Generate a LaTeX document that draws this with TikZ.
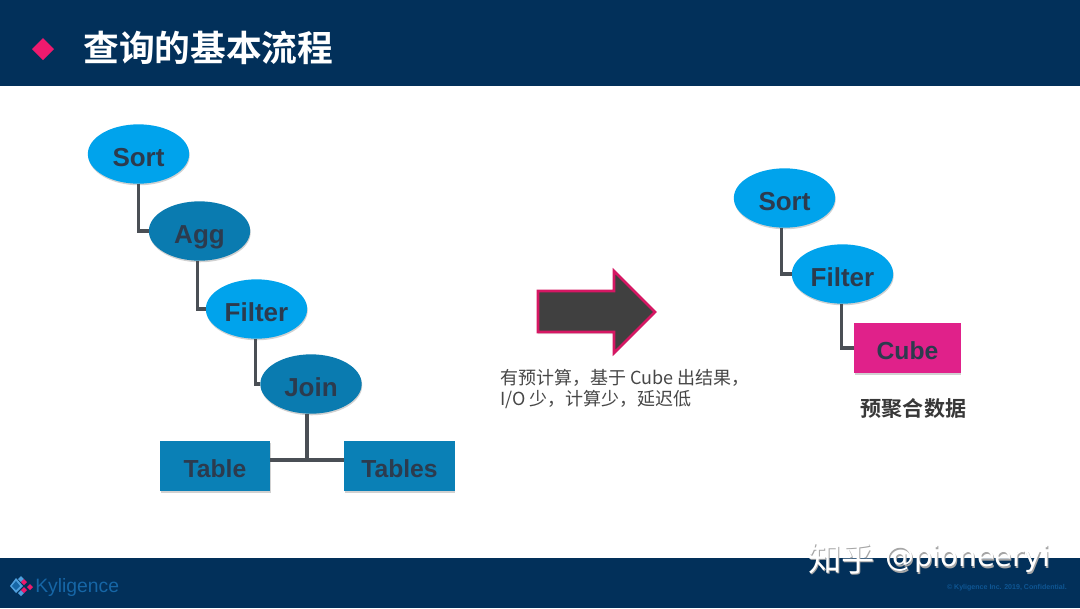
\documentclass[tikz,border=0pt]{standalone}
\usepackage{fontspec}
\setmainfont{Liberation Sans}
\newfontfamily\cjk{Noto Sans CJK SC}
\newfontfamily\cjkb{Noto Sans CJK SC Bold}
\newfontfamily\dejav{DejaVu Sans}
\usetikzlibrary{shapes.geometric,shadows,calc}
\definecolor{band}{HTML}{02305A}
\definecolor{lightb}{HTML}{00A3EC}
\definecolor{darkb}{HTML}{0A7BB0}
\definecolor{rectb}{HTML}{0A80B6}
\definecolor{cubep}{HTML}{E0218A}
\definecolor{ink}{HTML}{2C3B4E}
\definecolor{wire}{HTML}{4A4F55}
\definecolor{pinkd}{HTML}{EE1A6E}
\definecolor{logob}{HTML}{1666A6}
\definecolor{logol}{HTML}{4F9FDD}
\definecolor{copyb}{HTML}{0F5693}
\tikzset{
  softshadow/.style={drop shadow={shadow xshift=0.4pt,shadow yshift=-1.2pt,opacity=0.18,fill=black}},
  oval/.style={ellipse,minimum width=76pt,minimum height=44.5pt,inner sep=0pt,outer sep=0pt,softshadow,
     text=ink,font=\fontsize{19.5pt}{22pt}\selectfont\bfseries},
  ovalL/.style={oval,fill=lightb},
  ovalD/.style={oval,fill=darkb},
  boxn/.style={rectangle,inner sep=0pt,outer sep=0pt,minimum height=37.5pt,softshadow,
     text=ink,font=\fontsize{18.5pt}{22pt}\selectfont\bfseries},
  wireline/.style={draw=wire,line width=2.3pt,line join=miter},
  tlab/.style={yshift=-2pt},
}
\begin{document}
\begin{tikzpicture}[x=0.75pt,y=-0.75pt]
\useasboundingbox (0,0) rectangle (1080,608);
\fill[white] (0,0) rectangle (1080,608);
\fill[band] (0,0) rectangle (1080,86);
\fill[band] (0,558) rectangle (1080,608);
\fill[pinkd] (43,38) -- (54,49) -- (43,60) -- (32,49) -- cycle;
\node[text=white,anchor=west,inner sep=0pt,font=\fontsize{26.8pt}{30pt}\cjkb] (title) at (83,48) {查询的基本流程};

% left tree
\node[ovalL,text depth=0pt,text height=18.5pt] (s1) at (138.5,154) {Sort};
\node[ovalD,text depth=0pt,text height=18.5pt] (a1) at (199.5,231) {Agg};
\node[ovalL,text depth=0pt,text height=18.5pt] (f1) at (256.5,309) {Filter};
\node[ovalD,text depth=0pt,text height=18.5pt] (j1) at (311,384) {Join};
\node[boxn,fill=rectb,minimum width=82.5pt,text depth=0pt,text height=17pt] (t1) at (215,466) {Table};
\node[boxn,fill=rectb,minimum width=83pt,text depth=0pt,text height=17pt] (t2) at (399.5,466) {Tables};
\coordinate (jt) at (307,460);
\draw[wireline] (s1.south) |- (a1.west);
\draw[wireline] ([xshift=-1.5pt]a1.south) |- (f1.west);
\draw[wireline] ([xshift=-0.8pt]f1.south) |- (j1.west);
\draw[wireline] ([xshift=-3pt]j1.south) -- (jt);
\draw[wireline] (t1.east |- jt) -- (t2.west |- jt);

% arrow
\coordinate (p1) at (538,291);
\path[fill=black,opacity=0.12] (538,293) -- (614,293) -- (614,273) -- (655,314) -- (614,355) -- (614,334) -- (538,334) -- cycle;
\draw[fill=black!75,draw=pinkd!90!black,line width=2pt,line join=miter] (p1) -- (614,291) -- (614,271) -- (655,312) -- (614,353) -- (614,332) -- (538,332) -- cycle;
\node[anchor=north west,inner sep=0pt,align=left,text=black!72,font=\fontsize{13.5pt}{16pt}\cjk] (desc) at (500,369) {有预计算，基于 Cube 出结果，\\I/O 少，计算少，延迟低};

% right tree
\node[ovalL,text depth=0pt,text height=18.5pt] (s2) at (784.5,198) {Sort};
\node[ovalL,text depth=0pt,text height=18.5pt] (f2) at (842.5,274) {Filter};
\node[boxn,fill=cubep,minimum width=80pt,text depth=0pt,text height=17pt] (c2) at (907.5,348) {Cube};
\draw[wireline] ([xshift=-2pt]s2.south) |- (f2.west);
\draw[wireline] ([xshift=-1pt]f2.south) |- (c2.west);
\node[anchor=center,inner sep=0pt,text=black!78,font=\fontsize{15.8pt}{18pt}\cjkb] (lab) at (913.5,408) {预聚合数据};

% footer logo
\fill[logol] (16,578) -- (23,586) -- (16,593) -- (10,586) -- cycle;
\fill[logob] (16,581) -- (20,586) -- (16,590) -- (12,586) -- cycle;
\foreach \x/\y/\c/\r in {21/579/logol/3,21/593/logol/3,24/582/pinkd/3,30/587/pinkd/3,24/590/pinkd/3}{
  \fill[\c] (\x,\y-\r) -- (\x+\r,\y) -- (\x,\y+\r) -- (\x-\r,\y) -- cycle;
}
\node[anchor=west,inner sep=0pt,text=logob,font=\fontsize{14.5pt}{16pt}\selectfont] (logo) at (35,587) {Kyligence};
\node[anchor=east,inner sep=0pt,text=copyb,font=\fontsize{5.3pt}{6pt}\selectfont\bfseries] (copy) at (1067,588) {© Kyligence Inc. 2019, Confidential.};
\node[anchor=west,inner sep=0pt,text=black!35,font=\fontsize{25pt}{28pt}\cjk] (zhs) at (809,560) {知乎};
\node[anchor=west,inner sep=0pt,text=black!35,font=\fontsize{21.8pt}{26pt}\dejav] (ids) at (886,560) {@pioneeryi};
\node[anchor=west,inner sep=0pt,text=white,font=\fontsize{25pt}{28pt}\cjk] (zh) at (808,558.5) {知乎};
\node[anchor=west,inner sep=0pt,text=white,font=\fontsize{21.8pt}{26pt}\dejav] (id) at (885,558.5) {@pioneeryi};
\end{tikzpicture}
\end{document}
